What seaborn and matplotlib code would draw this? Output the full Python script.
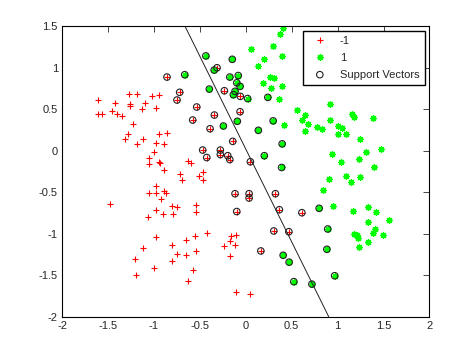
import numpy as np
import matplotlib
matplotlib.use("Agg")
import matplotlib.pyplot as plt
import seaborn as sns
from matplotlib.ticker import FuncFormatter

# class -1 points that are not support vectors
neg_x = [-1.605, -1.273, -1.180, -1.020, -0.945, -1.420, -1.262, -1.258, -1.096, -1.129,
         -0.976, -1.460, -1.613, -1.569, -1.400, -1.351, -1.229, -1.278, -1.318, -0.942,
         -0.860, -1.115, -1.180, -0.980, -0.885, -0.995, -1.051, -1.051, -0.945, -0.929,
         -0.894, -0.713, -0.698, -0.629, -0.597, -0.506, -0.469, -0.469, -0.978, -1.055,
         -0.978, -0.888, -0.872, -0.924, -1.480, -0.978, -0.807, -0.752, -0.547, -1.062,
         -0.905, -0.796, -0.547, -0.417, -0.978, -1.117, -0.800, -0.656, -0.553, -1.210,
         -0.752, -0.545, -0.807, -0.656, -0.997, -1.200, -0.571, -0.631, -0.103, 0.044,
         -0.160, -0.109, -0.171, -0.122, -0.233, -0.174]
neg_y = [0.611, 0.683, 0.683, 0.665, 0.673, 0.575, 0.559, 0.541, 0.577, 0.499,
         0.520, 0.482, 0.440, 0.440, 0.440, 0.416, 0.328, 0.199, 0.145, 0.207,
         0.217, 0.139, 0.084, 0.093, 0.084, -0.016, -0.088, -0.160, -0.136, -0.148,
         -0.227, -0.281, -0.353, -0.124, -0.152, -0.299, -0.257, -0.347, -0.425, -0.513,
         -0.513, -0.486, -0.506, -0.578, -0.639, -0.714, -0.666, -0.682, -0.660, -0.795,
         -0.766, -0.763, -0.742, -0.986, -1.036, -1.176, -1.140, -1.078, -1.025, -1.301,
         -1.241, -1.208, -1.329, -1.260, -1.410, -1.498, -1.440, -1.576, -1.699, -1.730,
         -1.024, -1.016, -1.092, -1.133, -1.148, -1.271]

# class -1 support vectors
neg_sv_x = [-0.858, -0.720, -0.749, -0.534, -0.578, -0.342, -0.389, -0.313, -0.233, -0.059,
            -0.062, -0.142, -0.469, -0.425, -0.277, -0.277, -0.196, -0.174, 0.050, -0.117,
            0.036, 0.036, -0.098, 0.323, 0.366, 0.611, 0.305, 0.469, 0.164]
neg_sv_y = [0.888, 0.704, 0.611, 0.527, 0.370, 0.430, 0.265, 1.000, 0.723, 0.655,
            0.470, 0.113, 0.008, -0.082, 0.008, -0.046, -0.060, -0.106, -0.133, -0.518,
            -0.518, -0.570, -0.733, -0.518, -0.711, -0.747, -0.967, -0.976, -1.208]

# class 1 points that are not support vectors
pos_x = [0.410, 0.374, 0.055, 0.294, 0.203, 0.399, 0.129, 0.268, 0.309, 0.192,
         0.276, 0.399, 0.360, 0.556, 0.647, 0.609, 0.912, 0.414, 0.674, 0.647,
         0.774, 0.832, 0.919, 1.004, 1.053, 1.004, 1.088, 1.162, 1.181, 1.385,
         1.246, 1.475, 1.312, 1.228, 0.944, 1.041, 1.401, 0.905, 1.088, 1.145,
         1.246, 0.846, 0.949, 1.173, 1.328, 1.413, 1.557, 1.336, 1.402, 1.385,
         1.494, 1.179, 1.214, 1.219, 1.336, 1.238]
pos_y = [1.475, 1.406, 1.222, 1.261, 1.110, 1.141, 1.027, 0.892, 0.872, 0.816,
         0.755, 0.786, 0.629, 0.490, 0.430, 0.376, 0.563, 0.306, 0.318, 0.237,
         0.289, 0.258, 0.370, 0.300, 0.277, 0.205, 0.198, 0.439, 0.410, 0.398,
         0.139, 0.024, -0.019, -0.096, -0.037, -0.130, -0.202, -0.337, -0.302, -0.375,
         -0.313, -0.477, -0.670, -0.723, -0.682, -0.735, -0.835, -0.865, -0.947, -0.988,
         -1.018, -1.004, -1.016, -1.055, -1.098, -1.160]

# class 1 support vectors
pos_sv_x = [-0.665, -0.435, -0.147, -0.344, -0.174, -0.082, -0.098, -0.062, -0.117, -0.135,
            -0.397, 0.020, 0.240, -0.092, -0.244, 0.137, 0.298, 0.396, 0.202, 0.390,
            0.407, 0.472, 0.523, 0.720, 0.799, 0.892, 0.883, 0.968]
pos_sv_y = [0.916, 1.143, 1.102, 0.972, 0.888, 0.906, 0.819, 0.776, 0.716, 0.675,
            0.743, 0.629, 0.643, 0.355, 0.298, 0.246, 0.360, 0.083, -0.060, -0.202,
            -1.260, -1.343, -1.578, -1.608, -0.694, -0.943, -1.188, -1.507]

# separating line: x = line_x0 + line_dxdy * y
line_x0 = 0.009
line_dxdy = -0.447

x_ticks = [-2, -1.5, -1, -0.5, 0, 0.5, 1, 1.5, 2]
y_ticks = [-2, -1.5, -1, -0.5, 0, 0.5, 1, 1.5]

sns.set_style("white")
plt.rcParams["font.family"] = ["Liberation Sans", "DejaVu Sans"]
plt.rcParams["axes.unicode_minus"] = False

fig = plt.figure(figsize=(4.74, 3.55), dpi=100)
ax = fig.add_axes([0.131, 0.108, 0.775, 0.818])

ax.plot(neg_x + neg_sv_x, neg_y + neg_sv_y, linestyle="none", marker="+",
        color="red", markersize=5, markeredgewidth=0.8, label="-1")
ax.plot(pos_x + pos_sv_x, pos_y + pos_sv_y, linestyle="none", marker=(8, 2, 0),
        color="#00ff00", markersize=4.8, markeredgewidth=0.9, label="1")
sns.scatterplot(x=neg_sv_x + pos_sv_x, y=neg_sv_y + pos_sv_y, ax=ax, marker="o",
                s=22, facecolor="none", edgecolor="#222222", linewidth=0.8,
                label="Support Vectors", zorder=3)

ys = np.array(y_ticks[::len(y_ticks) - 1], dtype=float)
ax.plot(line_x0 + line_dxdy * ys, ys, color="#222222", linewidth=0.7)

ax.set_xlim(x_ticks[0], x_ticks[-1])
ax.set_ylim(y_ticks[0], y_ticks[-1])
ax.set_xticks(x_ticks)
ax.set_yticks(y_ticks)
fmt = FuncFormatter(lambda v, p: f"{v:g}")
ax.xaxis.set_major_formatter(fmt)
ax.yaxis.set_major_formatter(fmt)
ax.tick_params(direction="in", top=True, right=True, length=4, width=0.6,
               labelsize=8, pad=3)
for s in ax.spines.values():
    s.set_linewidth(0.8)
    s.set_color("black")

ax.legend(loc="upper right", fontsize=8, frameon=True, fancybox=False,
          edgecolor="black", framealpha=1, borderaxespad=0.4, handletextpad=0.8,
          labelspacing=0.6, borderpad=0.5)

fig.savefig("out.png", dpi=100, facecolor="white")
